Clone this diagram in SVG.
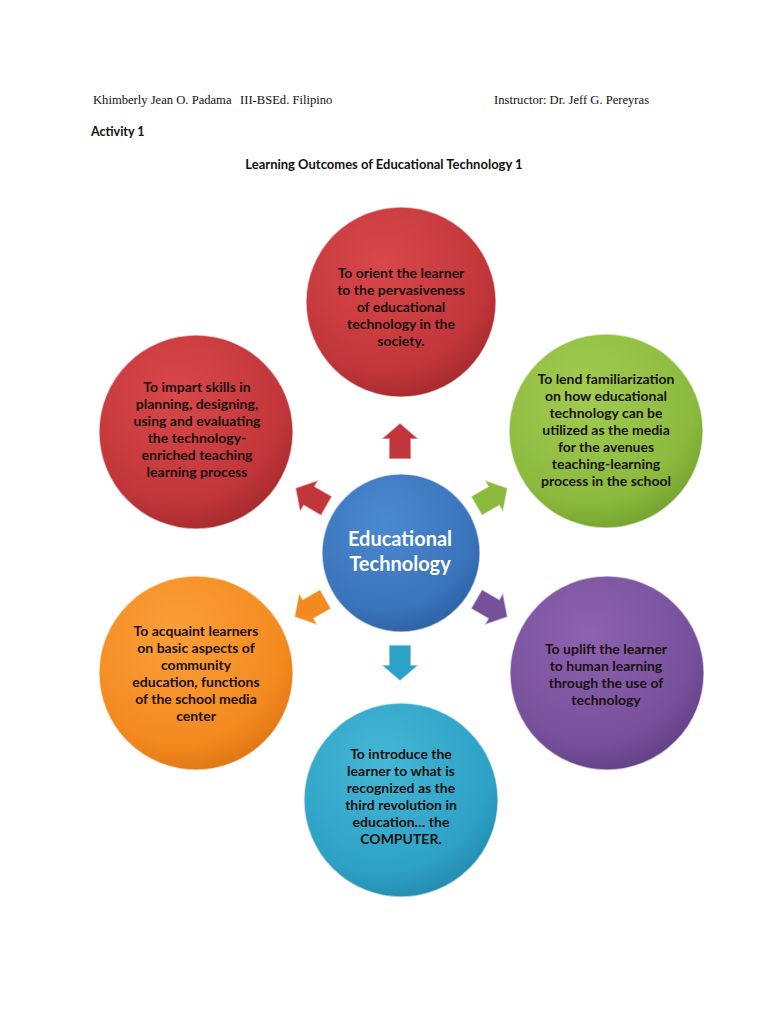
<svg xmlns="http://www.w3.org/2000/svg" width="768" height="1024" viewBox="0 0 768 1024">
<style>
.hdr{font-family:"Liberation Serif","Times New Roman",serif;font-size:12.6px;fill:#111}
.cal{font-family:Lato,"Liberation Sans",sans-serif;font-weight:bold;fill:#111}
.lbl{font-family:Lato,"Liberation Sans",sans-serif;font-weight:bold;font-size:14px;fill:#1a1010;text-anchor:middle}
.ctr{font-family:Lato,"Liberation Sans",sans-serif;font-weight:bold;font-size:20px;fill:#ffffff;text-anchor:middle}
.rim{stroke:#ffffff;stroke-opacity:0.55;stroke-width:1.5}
</style>
<defs>
<radialGradient id="gRed" cx="0.4" cy="0.3" r="0.8"><stop offset="0" stop-color="#d9484a"/><stop offset="0.7" stop-color="#c1363a"/><stop offset="1" stop-color="#9a2528"/></radialGradient>
<radialGradient id="gGreen" cx="0.4" cy="0.3" r="0.8"><stop offset="0" stop-color="#a2cc52"/><stop offset="0.7" stop-color="#8bba3e"/><stop offset="1" stop-color="#6c9a28"/></radialGradient>
<radialGradient id="gPurple" cx="0.4" cy="0.3" r="0.8"><stop offset="0" stop-color="#8d62ae"/><stop offset="0.7" stop-color="#77509b"/><stop offset="1" stop-color="#5b3a7d"/></radialGradient>
<radialGradient id="gCyan" cx="0.4" cy="0.3" r="0.8"><stop offset="0" stop-color="#45b7d6"/><stop offset="0.7" stop-color="#2ea2c6"/><stop offset="1" stop-color="#1f83a6"/></radialGradient>
<radialGradient id="gOrange" cx="0.4" cy="0.3" r="0.8"><stop offset="0" stop-color="#fb9f3a"/><stop offset="0.7" stop-color="#f38a20"/><stop offset="1" stop-color="#d86e0c"/></radialGradient>
<radialGradient id="gBlue" cx="0.4" cy="0.3" r="0.8"><stop offset="0" stop-color="#4b89cf"/><stop offset="0.7" stop-color="#3a74bb"/><stop offset="1" stop-color="#285a9a"/></radialGradient>
<path id="arr" d="M0,-18 L18.5,-2 L11,-2 L11,18 L-11,18 L-11,-2 L-18.5,-2 Z"/>
</defs>

<g id="header">
<text class="hdr" x="93" y="104">Khimberly Jean O. Padama</text>
<text class="hdr" x="240" y="104">III-BSEd. Filipino</text>
<text class="hdr" x="494" y="104">Instructor: Dr. Jeff G. Pereyras</text>
<text class="cal" x="91" y="136" font-size="12.5">Activity 1</text>
<text class="cal" x="384" y="169" font-size="13" text-anchor="middle">Learning Outcomes of Educational Technology 1</text>
</g>

<g id="connectors">
<use href="#arr" fill="#c1363a" class="rim" transform="translate(400,441)"/>
<use href="#arr" fill="#8bba3e" class="rim" transform="translate(492,497) rotate(60)"/>
<use href="#arr" fill="#77509b" class="rim" transform="translate(492,608) rotate(120)"/>
<use href="#arr" fill="#2ea2c6" class="rim" transform="translate(400,663) rotate(180)"/>
<use href="#arr" fill="#f38a20" class="rim" transform="translate(310,608) rotate(-120)"/>
<use href="#arr" fill="#c1363a" class="rim" transform="translate(311,497) rotate(-60)"/>
</g>

<g id="center">
<circle cx="401" cy="553" r="79" fill="url(#gBlue)" class="rim"/>
<text class="ctr" x="400" y="546">Educational</text>
<text class="ctr" x="400" y="571">Technology</text>
</g>

<g id="n-top">
<circle cx="401" cy="302" r="95" fill="url(#gRed)" class="rim"/>
<text class="lbl" x="401" y="278">To orient the learner</text>
<text class="lbl" x="401" y="295">to the pervasiveness</text>
<text class="lbl" x="401" y="312">of educational</text>
<text class="lbl" x="401" y="329">technology in the</text>
<text class="lbl" x="401" y="346">society.</text>
</g>

<g id="n-upper-right">
<circle cx="606" cy="431" r="97" fill="url(#gGreen)" class="rim"/>
<text class="lbl" x="606" y="384">To lend familiarization</text>
<text class="lbl" x="606" y="401">on how educational</text>
<text class="lbl" x="606" y="418">technology can be</text>
<text class="lbl" x="606" y="435">utilized as the media</text>
<text class="lbl" x="606" y="452">for the avenues</text>
<text class="lbl" x="606" y="469">teaching-learning</text>
<text class="lbl" x="606" y="486">process in the school</text>
</g>

<g id="n-lower-right">
<circle cx="607" cy="673" r="97" fill="url(#gPurple)" class="rim"/>
<text class="lbl" x="606" y="654">To uplift the learner</text>
<text class="lbl" x="606" y="671">to human learning</text>
<text class="lbl" x="606" y="688">through the use of</text>
<text class="lbl" x="606" y="705">technology</text>
</g>

<g id="n-bottom">
<circle cx="401" cy="800" r="97" fill="url(#gCyan)" class="rim"/>
<text class="lbl" x="401" y="759">To introduce the</text>
<text class="lbl" x="401" y="776">learner to what is</text>
<text class="lbl" x="401" y="793">recognized as the</text>
<text class="lbl" x="401" y="810">third revolution in</text>
<text class="lbl" x="401" y="827">education… the</text>
<text class="lbl" x="401" y="844">COMPUTER.</text>
</g>

<g id="n-lower-left">
<circle cx="196" cy="673" r="97" fill="url(#gOrange)" class="rim"/>
<text class="lbl" x="196" y="636">To acquaint learners</text>
<text class="lbl" x="196" y="653">on basic aspects of</text>
<text class="lbl" x="196" y="670">community</text>
<text class="lbl" x="196" y="687">education, functions</text>
<text class="lbl" x="196" y="704">of the school media</text>
<text class="lbl" x="196" y="721">center</text>
</g>

<g id="n-upper-left">
<circle cx="196" cy="432" r="97" fill="url(#gRed)" class="rim"/>
<text class="lbl" x="197" y="392">To impart skills in</text>
<text class="lbl" x="197" y="409">planning, designing,</text>
<text class="lbl" x="197" y="426">using and evaluating</text>
<text class="lbl" x="197" y="443">the technology-</text>
<text class="lbl" x="197" y="460">enriched teaching</text>
<text class="lbl" x="197" y="477">learning process</text>
</g>
</svg>
